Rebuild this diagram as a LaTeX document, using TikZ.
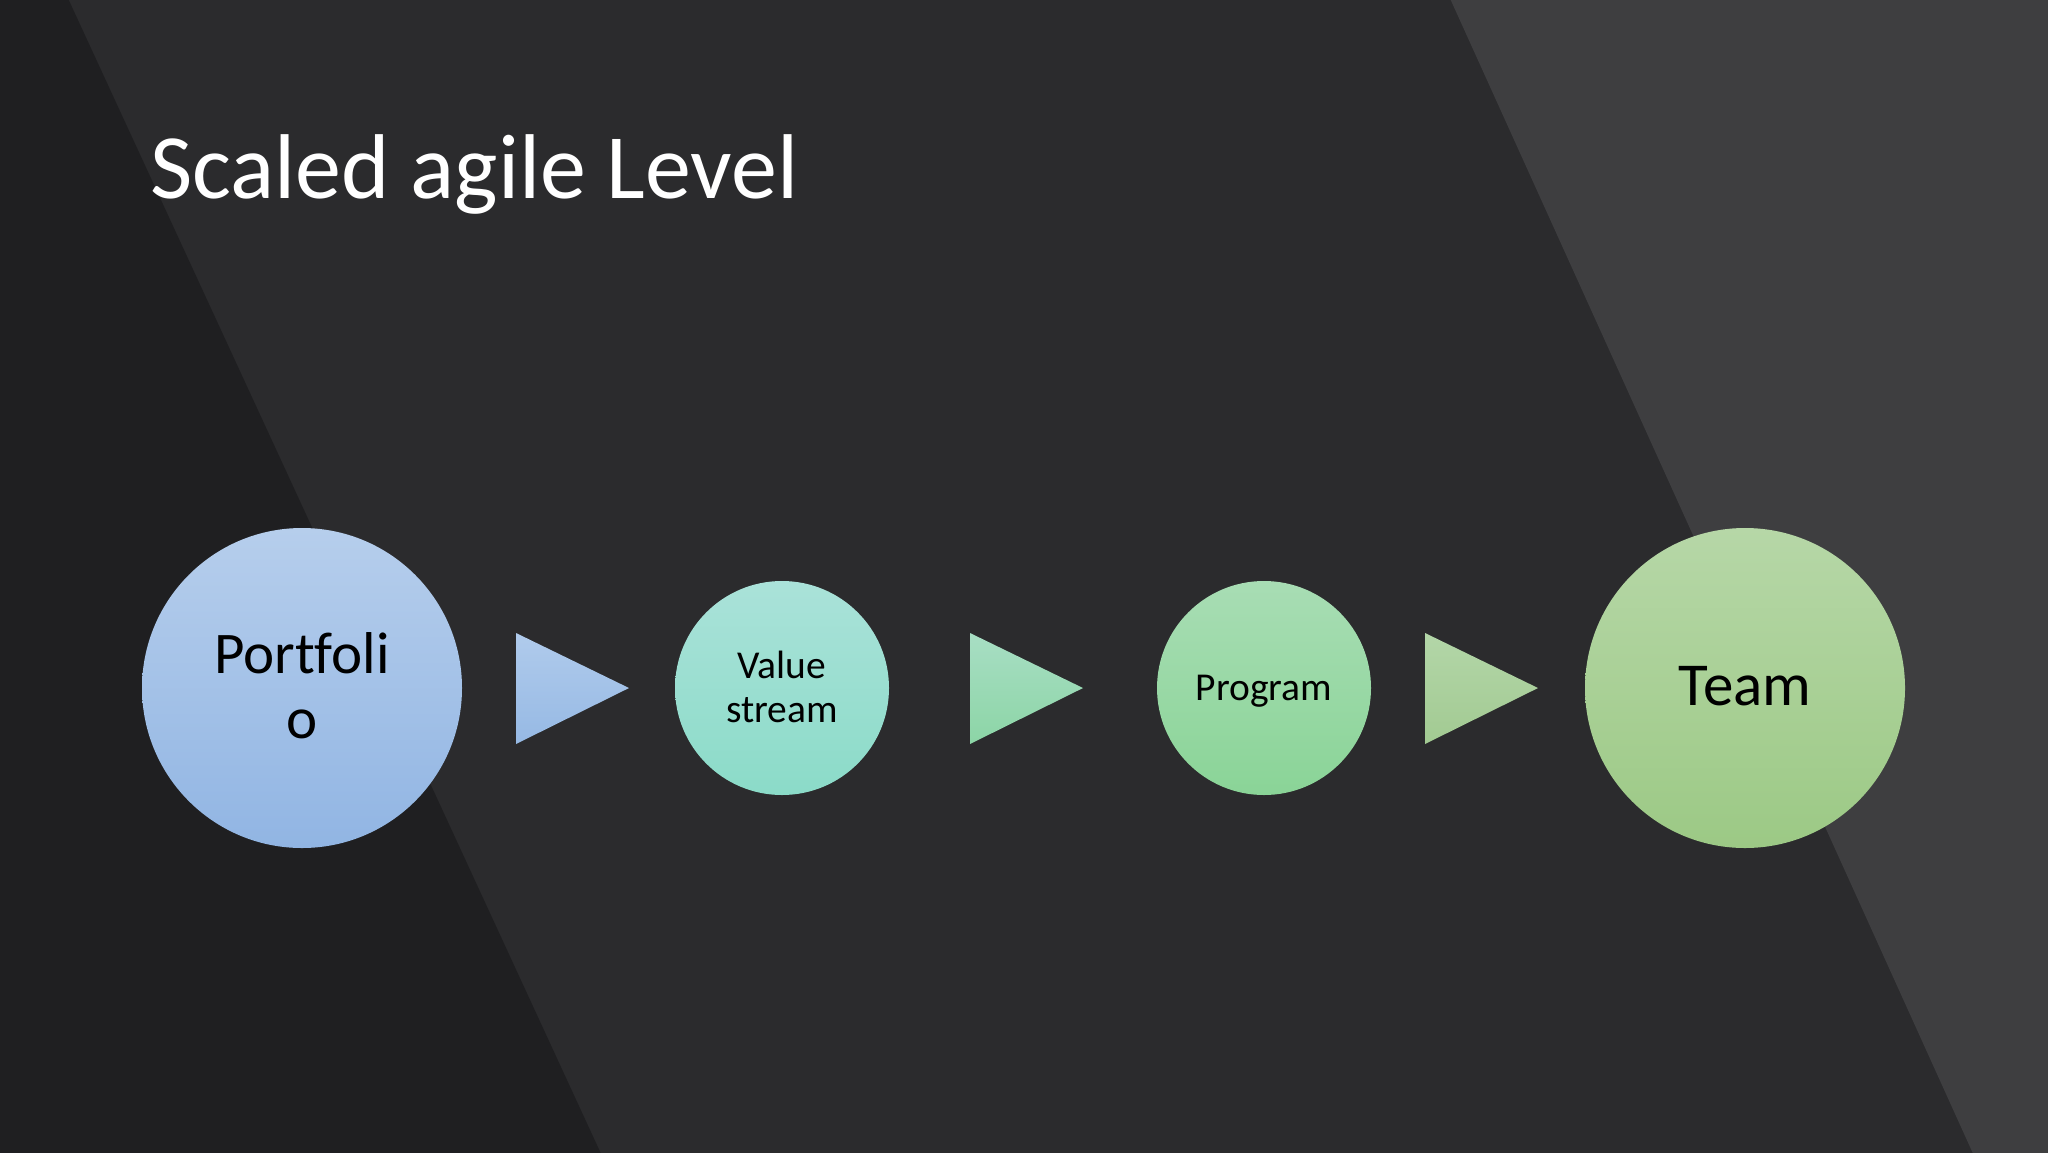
\documentclass[tikz,border=0pt]{standalone}
\usepackage{fontspec}
\setmainfont{Carlito}[Ligatures=NoCommon]
\definecolor{bgmid}{HTML}{2B2B2D}
\definecolor{bgleft}{HTML}{1F1F21}
\definecolor{bgright}{HTML}{3E3E40}
\definecolor{pfTop}{HTML}{B6CEEC}
\definecolor{pfBot}{HTML}{91B5E3}
\definecolor{vsTop}{HTML}{AAE2D9}
\definecolor{vsBot}{HTML}{8BDBC8}
\definecolor{prTop}{HTML}{A8DDB4}
\definecolor{prBot}{HTML}{8AD497}
\definecolor{tmTop}{HTML}{B6D7A7}
\definecolor{tmBot}{HTML}{9CC985}
\definecolor{t1Top}{HTML}{B0CBEC}
\definecolor{t1Bot}{HTML}{96B9E4}
\definecolor{t2Top}{HTML}{A8DEC4}
\definecolor{t2Bot}{HTML}{8CD5A6}
\definecolor{t3Top}{HTML}{B3D6A8}
\definecolor{t3Bot}{HTML}{A2CA92}
\begin{document}
\begin{tikzpicture}[x=0.5pt,y=-0.5pt,
  bigcirc/.style={circle,inner sep=0pt,minimum size=160pt,draw=none},
  smallcirc/.style={circle,inner sep=0pt,minimum size=107pt,draw=none},
  bigtxt/.style={anchor=base,inner sep=0pt,font=\fontsize{29.5pt}{32.5pt}\selectfont,text=black},
  teamtxt/.style={anchor=base,inner sep=0pt,font=\fontsize{30.5pt}{33pt}\selectfont,text=black},
  smalltxt/.style={anchor=base,inner sep=0pt,font=\fontsize{19.75pt}{21.5pt}\selectfont,text=black},
  arrowtri/.style={draw=none}
]
\useasboundingbox (0,0) rectangle (2048,1152);
% background
\fill[bgmid] (-6,-6) rectangle (2054,1158);
\fill[bgleft] (-6,-6) -- (66,-6) -- (603,1158) -- (-6,1158) -- cycle;
\fill[bgright] (1448,-6) -- (2054,-6) -- (2054,1158) -- (1975,1158) -- cycle;
% title
\node[anchor=base west,inner sep=0pt,text=white,font=\fontsize{46pt}{55pt}\selectfont] (title) at (150,198) {Scaled agile Level};
% circles
\node[bigcirc,top color=pfTop,bottom color=pfBot] (portfolio) at (302,688) {};
\node[smallcirc,top color=vsTop,bottom color=vsBot] (value) at (782,688) {};
\node[smallcirc,top color=prTop,bottom color=prBot] (program) at (1264,688) {};
\node[bigcirc,top color=tmTop,bottom color=tmBot] (team) at (1745,688) {};
% texts
\node[bigtxt] (pf1) at (302,673) {Portfoli};
\node[bigtxt] (pf2) at (302,738) {o};
\node[smalltxt] (vs1) at (782,678) {Value};
\node[smalltxt] (vs2) at (782,722) {stream};
\node[smalltxt] (pr) at (1264,700) {Program};
\node[teamtxt] (tm) at (1745,705) {Team};
% triangles
\shade[arrowtri,top color=t1Top,bottom color=t1Bot] (516,633) -- (629,688) -- (516,744) -- cycle;
\shade[arrowtri,top color=t2Top,bottom color=t2Bot] (970,633) -- (1083,688) -- (970,744) -- cycle;
\shade[arrowtri,top color=t3Top,bottom color=t3Bot] (1425,633) -- (1538,688) -- (1425,744) -- cycle;
\end{tikzpicture}
\end{document}
